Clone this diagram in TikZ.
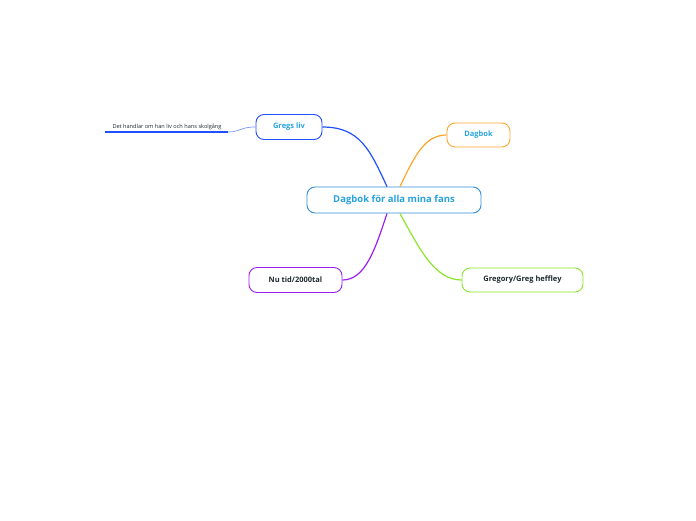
\documentclass[tikz,border=0pt]{standalone}
\usepackage{fontspec}
\setmainfont{Open Sans}
\definecolor{tblue}{HTML}{29A3E0}
\definecolor{cblue}{HTML}{2F8FD8}
\definecolor{gblue}{HTML}{1F4FFF}
\definecolor{orng}{HTML}{FFA42E}
\definecolor{purp}{HTML}{9B1FF0}
\definecolor{lime}{HTML}{8AE62A}
\definecolor{dark}{HTML}{1E2A30}
\begin{document}
\begin{tikzpicture}[x=1pt,y=-1pt,
  box/.style={draw,rounded corners=8pt,fill=white,line width=0.9pt,inner sep=0pt,font=\bfseries},
  link/.style={line width=1.2pt}]
\useasboundingbox (0,0) rectangle (696,520);
\node[box,draw=cblue,text=tblue,minimum width=174pt,minimum height=26pt,font=\bfseries\fontsize{9.5}{11}\selectfont] (c) at (394,200) {Dagbok för alla mina fans};
\node[box,draw=gblue,text=tblue,minimum width=66pt,minimum height=25pt,font=\bfseries\fontsize{7.5}{9}\selectfont] (g) at (289,127) {Gregs liv};
\node[box,draw=orng,text=tblue,minimum width=63pt,minimum height=24pt,font=\bfseries\fontsize{7.5}{9}\selectfont] (d) at (478.5,135) {Dagbok};
\node[box,draw=purp,text=dark,minimum width=93pt,minimum height=25pt,font=\bfseries\fontsize{7.5}{9}\selectfont] (n) at (295.5,280) {Nu tid/2000tal};
\node[box,draw=lime,text=dark,minimum width=121pt,minimum height=24pt,font=\bfseries\fontsize{7.5}{9}\selectfont] (r) at (522.5,280) {Gregory/Greg heffley};
\node[text=dark,font=\fontsize{5.6}{7}\selectfont,inner sep=0pt] (s) at (167,126.5) {Det handlar om han liv och hans skolgång};
\coordinate (sl) at (105,132);
\coordinate (sr) at (228,132);
\draw[gblue,line width=1.3pt] (sl) -- (sr);
\draw[gblue!60,line width=0.7pt] (sr) .. controls (240,132) and (240,127) .. (g.west);
\draw[link,gblue] (c.north)++(-7,0) coordinate (c1) (c1) .. controls (370,150) and (360,127) .. (g.east);
\draw[link,orng] (c.north)++(6,0) coordinate (c2) (c2) .. controls (415,155) and (425,135) .. (d.west);
\draw[link,purp] (c.south)++(-7,0) coordinate (c3) (c3) .. controls (375,250) and (365,280) .. (n.east);
\draw[link,lime] (c.south)++(6,0) coordinate (c4) (c4) .. controls (420,250) and (435,280) .. (r.west);
\end{tikzpicture}
\end{document}
